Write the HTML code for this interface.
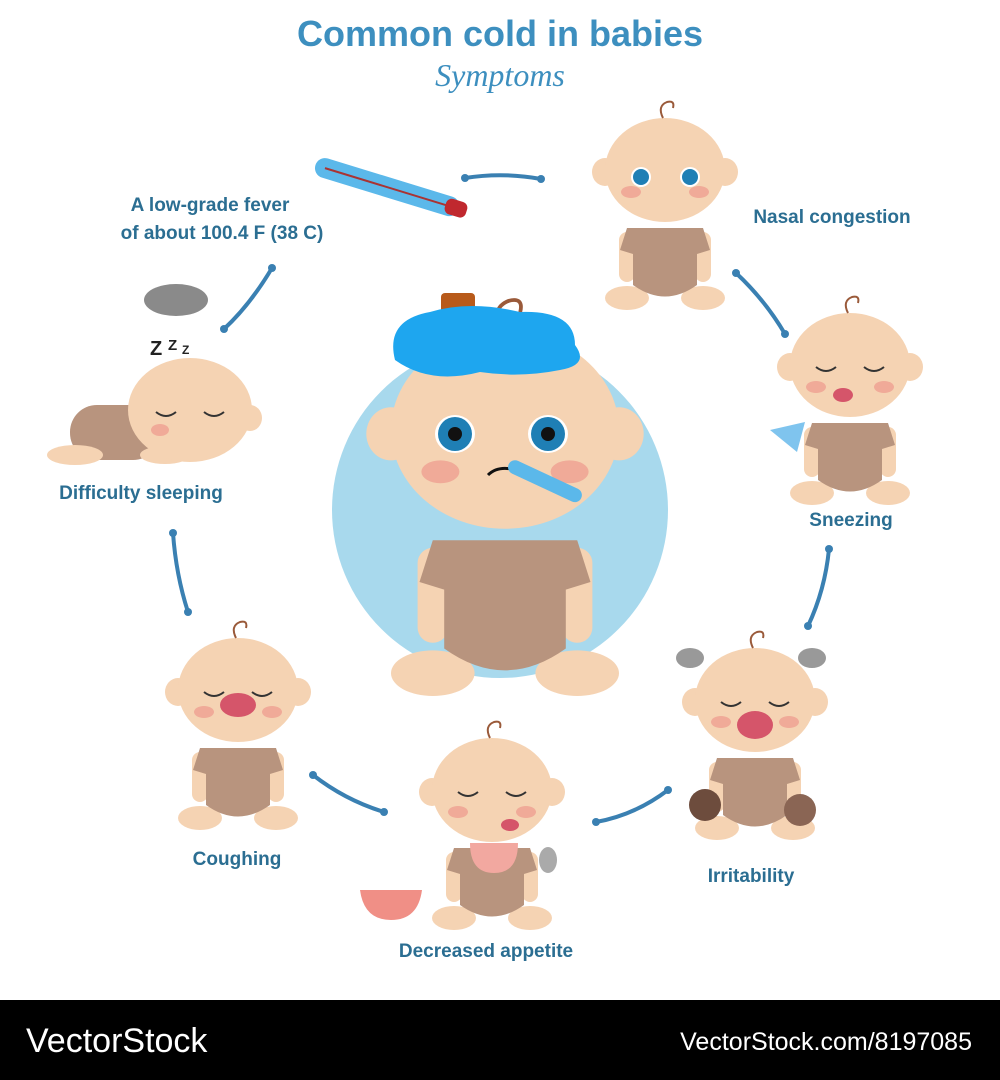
<!DOCTYPE html>
<html><head><meta charset="utf-8"><style>
html,body{margin:0;padding:0;background:#fff}
svg{display:block}
.l{font-family:"Liberation Sans",sans-serif;font-weight:bold;font-size:19px;fill:#2b6e92;text-anchor:middle}
</style></head><body>
<svg width="1000" height="1080" viewBox="0 0 1000 1080" xmlns="http://www.w3.org/2000/svg">
<defs>
<g id="baby">
  <ellipse cx="-38" cy="128" rx="22" ry="12" fill="#f5d3b3"/>
  <ellipse cx="38" cy="128" rx="22" ry="12" fill="#f5d3b3"/>
  <rect x="-46" y="62" width="16" height="50" rx="8" fill="#f5d3b3"/>
  <rect x="30" y="62" width="16" height="50" rx="8" fill="#f5d3b3"/>
  <path d="M-38 58 L38 58 L45 80 L32 84 L32 115 Q0 138 -32 115 L-32 84 L-45 80 Z" fill="#b8947e"/>
  <ellipse cx="-60" cy="2" rx="13" ry="14" fill="#f5d3b3"/>
  <ellipse cx="60" cy="2" rx="13" ry="14" fill="#f5d3b3"/>
  <ellipse cx="0" cy="0" rx="60" ry="52" fill="#f5d3b3"/>
  <ellipse cx="-34" cy="22" rx="10" ry="6" fill="#f0aa98"/>
  <ellipse cx="34" cy="22" rx="10" ry="6" fill="#f0aa98"/>
  <path d="M-2 -52 q-6 -12 4 -16 q8 -2 6 6" fill="none" stroke="#9a5a3a" stroke-width="2"/>
</g>
<g id="closed">
  <path d="M-34 2 q10 8 20 0 M14 2 q10 8 20 0" fill="none" stroke="#333" stroke-width="2"/>
</g>
</defs>

<text x="500" y="46" font-family="Liberation Sans,sans-serif" font-weight="bold" font-size="36" fill="#3d8fbf" text-anchor="middle">Common cold in babies</text>
<text x="500" y="86" font-family="Liberation Serif,serif" font-style="italic" font-size="32" fill="#3d8fbf" text-anchor="middle">Symptoms</text>

<circle cx="500" cy="510" r="168" fill="#a8d9ed"/>

<!-- connectors -->
<g fill="none" stroke="#3a80b2" stroke-width="4" stroke-linecap="round">
<path d="M465 178 Q503 172 541 179"/>
<path d="M272 268 Q250 305 224 329"/>
<path d="M173 533 Q176 575 188 612"/>
<path d="M313 775 Q345 800 384 812"/>
<path d="M596 822 Q635 815 668 790"/>
<path d="M829 549 Q825 590 808 626"/>
<path d="M736 273 Q765 300 785 334"/>
</g>
<g fill="#3a80b2">
<circle cx="465" cy="178" r="4"/><circle cx="541" cy="179" r="4"/>
<circle cx="272" cy="268" r="4"/><circle cx="224" cy="329" r="4"/>
<circle cx="173" cy="533" r="4"/><circle cx="188" cy="612" r="4"/>
<circle cx="313" cy="775" r="4"/><circle cx="384" cy="812" r="4"/>
<circle cx="596" cy="822" r="4"/><circle cx="668" cy="790" r="4"/>
<circle cx="829" cy="549" r="4"/><circle cx="808" cy="626" r="4"/>
<circle cx="736" cy="273" r="4"/><circle cx="785" cy="334" r="4"/>
</g>

<!-- thermometer -->
<g transform="rotate(17 390 188)">
<rect x="312" y="178" width="150" height="20" rx="10" fill="#5bb8ea"/>
<line x1="322" y1="188" x2="450" y2="188" stroke="#a33" stroke-width="2"/>
<rect x="448" y="180" width="22" height="16" rx="6" fill="#c0282e"/>
</g>

<!-- central baby -->
<g transform="translate(505 430) scale(1.9)"><use href="#baby"/></g>
<ellipse cx="455" cy="434" rx="20" ry="19" fill="#fff"/><circle cx="455" cy="434" r="17" fill="#1f7fb5"/><circle cx="455" cy="434" r="7" fill="#111"/>
<ellipse cx="548" cy="434" rx="20" ry="19" fill="#fff"/><circle cx="548" cy="434" r="17" fill="#1f7fb5"/><circle cx="548" cy="434" r="7" fill="#111"/>
<path d="M488 475 q10 -10 28 -5" fill="none" stroke="#111" stroke-width="3"/>
<g transform="rotate(25 540 480)"><rect x="505" y="472" width="80" height="14" rx="7" fill="#5bb8ea"/></g>
<rect x="441" y="293" width="34" height="22" rx="4" fill="#b85a1a"/>
<path d="M395 360 Q385 320 430 312 Q470 300 520 312 Q575 310 575 345 Q590 365 560 370 Q520 378 480 372 Q430 385 395 360 Z" fill="#1ea6ef"/>

<!-- nasal congestion baby -->
<g transform="translate(665 170)"><use href="#baby"/></g>
<circle cx="641" cy="177" r="10" fill="#fff"/><circle cx="641" cy="177" r="8" fill="#1f7fb5"/>
<circle cx="690" cy="177" r="10" fill="#fff"/><circle cx="690" cy="177" r="8" fill="#1f7fb5"/>
<text class="l" x="832" y="223">Nasal congestion</text>

<!-- sneezing -->
<g transform="translate(850 365)"><use href="#baby"/><use href="#closed"/></g>
<ellipse cx="843" cy="395" rx="10" ry="7" fill="#d5556a"/>
<path d="M770 430 l35 -8 l-8 30 z" fill="#7fc4ee"/>
<text class="l" x="851" y="526">Sneezing</text>

<!-- irritability -->
<g transform="translate(755 700)"><use href="#baby"/><use href="#closed"/></g>
<ellipse cx="755" cy="725" rx="18" ry="14" fill="#d5556a"/>
<ellipse cx="690" cy="658" rx="14" ry="10" fill="#999"/><ellipse cx="812" cy="658" rx="14" ry="10" fill="#999"/>
<circle cx="705" cy="805" r="16" fill="#6d4c3d"/><circle cx="800" cy="810" r="16" fill="#8a6554"/>
<text class="l" x="751" y="882">Irritability</text>

<!-- decreased appetite -->
<g transform="translate(492 790)"><use href="#baby"/><use href="#closed"/></g>
<path d="M470 843 h48 q0 30 -24 30 q-24 0 -24 -30z" fill="#f2a8a0"/>
<path d="M360 890 h62 q-4 30 -31 30 q-27 0 -31 -30z" fill="#f08f86"/>
<ellipse cx="548" cy="860" rx="9" ry="13" fill="#aaa"/>
<ellipse cx="510" cy="825" rx="9" ry="6" fill="#d5556a"/>
<text class="l" x="486" y="957">Decreased appetite</text>

<!-- coughing -->
<g transform="translate(238 690)"><use href="#baby"/><use href="#closed"/></g>
<ellipse cx="238" cy="705" rx="18" ry="12" fill="#d5556a"/>
<text class="l" x="237" y="865">Coughing</text>

<!-- difficulty sleeping -->
<rect x="70" y="405" width="90" height="55" rx="27" fill="#b8947e"/>
<ellipse cx="75" cy="455" rx="28" ry="10" fill="#f5d3b3"/>
<ellipse cx="165" cy="455" rx="25" ry="9" fill="#f5d3b3"/>
<g transform="translate(190 410)"><ellipse cx="60" cy="8" rx="12" ry="13" fill="#f5d3b3"/><ellipse cx="0" cy="0" rx="62" ry="52" fill="#f5d3b3"/><ellipse cx="-30" cy="20" rx="9" ry="6" fill="#f0aa98"/><use href="#closed"/></g>
<ellipse cx="176" cy="300" rx="32" ry="16" fill="#8a8a8a"/>
<text x="150" y="355" font-family="Liberation Sans,sans-serif" font-weight="bold" font-size="20" fill="#222">Z</text>
<text x="168" y="350" font-family="Liberation Sans,sans-serif" font-weight="bold" font-size="15" fill="#222">Z</text>
<text x="182" y="354" font-family="Liberation Sans,sans-serif" font-weight="bold" font-size="12" fill="#222">Z</text>
<text class="l" x="141" y="499">Difficulty sleeping</text>

<text class="l" x="210" y="211">A low-grade fever</text>
<text class="l" x="222" y="239">of about 100.4 F (38 C)</text>

<!-- footer -->
<rect x="0" y="1000" width="1000" height="80" fill="#000"/>
<text x="26" y="1052" font-family="Liberation Sans,sans-serif" font-size="34" fill="#fff">VectorStock</text>
<text x="972" y="1050" font-family="Liberation Sans,sans-serif" font-size="25" fill="#fff" text-anchor="end">VectorStock.com/8197085</text>
</svg>
</body></html>
